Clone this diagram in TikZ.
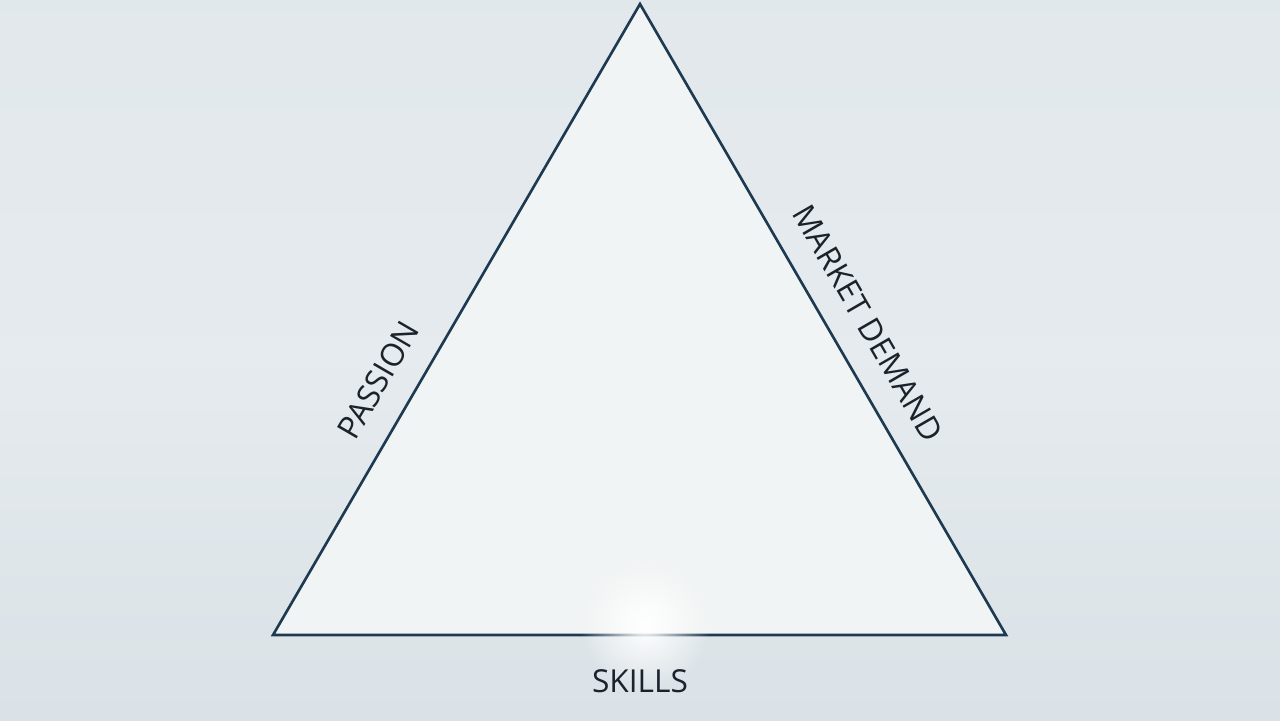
\documentclass[tikz,border=0pt]{standalone}
\usepackage{fontspec}
\setmainfont{Open Sans}
\usetikzlibrary{
	positioning,
	fadings
}
\definecolor{backdrop}{HTML}{DAE2E7}
\definecolor{facefill}{HTML}{F1F4F4}
\definecolor{edgeline}{HTML}{1D3A50}
\definecolor{labeltext}{HTML}{1A232B}
\tikzfading[name=glow fade,inner color=transparent!0,outer color=transparent!100]
\tikzset{
	x=0.01cm,
	y=-0.01cm,
	edge/.style={
		draw=edgeline,
		line width=0.75pt,
		line join=miter
	},
	sidelabel/.style={
		text=labeltext,
		font=\fontsize{9}{11}\selectfont,
		inner sep=0pt
	}
}

\begin{document}
\begin{tikzpicture}
		\useasboundingbox[shade,top color=backdrop!80!white,bottom color=backdrop,middle color=backdrop!70!white] (0,0) rectangle (1280,720);

		\coordinate (apex)  at (640,4);
		\coordinate (left)  at (273,635);
		\coordinate (right) at (1006,635);

		\path[edge,fill=facefill] (apex) -- (left) -- (right) -- cycle;

		% glow on the bottom side
		\fill[white,path fading=glow fade] (645,625) circle (65);

		\draw
			node[sidelabel,rotate=59.8]  (passion) at (378,380) {PASSION}
			node[sidelabel,rotate=-59.9] (market)  at (868,323) {MARKET DEMAND}
			node[sidelabel]              (skills)  at (640,681) {SKILLS}
		;
	\end{tikzpicture}
\end{document}
